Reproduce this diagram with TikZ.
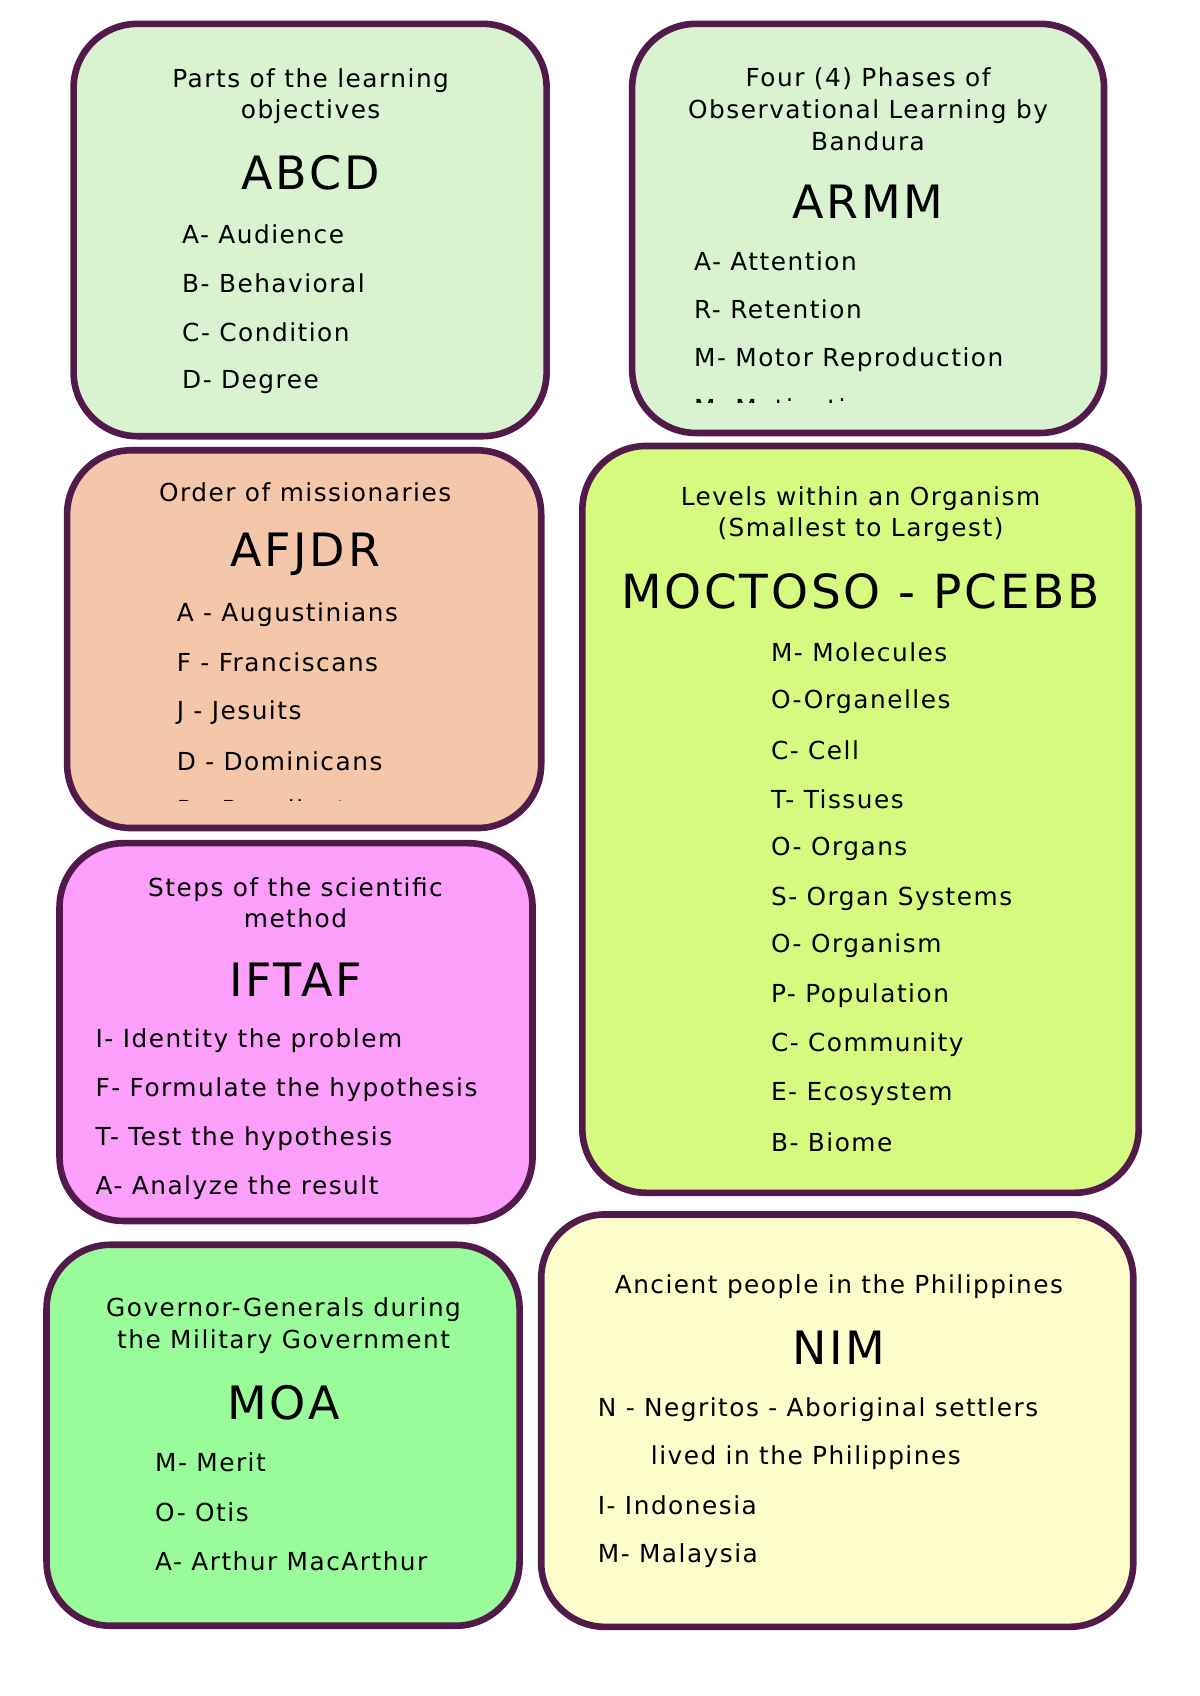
\documentclass[tikz,border=0pt]{standalone}
\usepackage{fontspec}
\setmainfont{DejaVu Sans}[LetterSpace=6]
\begin{document}
\begin{tikzpicture}[x=0.5412pt,y=-0.5412pt,
  card/.style={draw=bord,line width=3.3pt,rounded corners=32pt},
  ttl/.style={font=\fontsize{12.4}{15.8}\selectfont,align=center,inner sep=0},
  big/.style={font=\fontsize{23}{24}\selectfont,inner sep=0},
  itm/.style={font=\fontsize{12.4}{14}\selectfont,anchor=west,inner sep=0}]
\definecolor{bord}{HTML}{521A4A}
\definecolor{cA}{HTML}{D9F2D0}
\definecolor{cB}{HTML}{F4C6AA}
\definecolor{cC}{HTML}{D6FA80}
\definecolor{cD}{HTML}{FB9FFB}
\definecolor{cE}{HTML}{99FB99}
\definecolor{cF}{HTML}{FDFDCC}
\useasboundingbox (0,0) rectangle (1108.6,1566.9);
\fill[white] (0,0) rectangle (1108.6,1566.9);
% boxes
\draw[card,fill=cA] (68,22) rectangle (505,403);
\draw[card,fill=cA] (584,22) rectangle (1020,400);
\draw[card,fill=cB] (62,416) rectangle (500,765);
\draw[card,fill=cC] (538,412) rectangle (1052,1102);
\draw[card,fill=cD] (55,779) rectangle (492,1128);
\draw[card,fill=cE] (43,1150) rectangle (480,1502);
\draw[card,fill=cF] (500,1122) rectangle (1047,1503);
% box 1
\node[ttl] (t1) at (287,89) {Parts of the learning\\objectives};
\node[big] (b1) at (287,160) {ABCD};
\node[itm] (a1) at (168,216) {A- Audience};
\node[itm] (a2) at (168,262) {B- Behavioral};
\node[itm] (a3) at (168,307) {C- Condition};
\node[itm] (a4) at (168,353) {D- Degree};
% box 2
\node[ttl] (t2) at (802,101) {Four (4) Phases of\\Observational Learning by\\Bandura};
\node[big] (b2) at (802,186) {ARMM};
\node[itm] (r1) at (641,241) {A- Attention};
\node[itm] (r2) at (641,286) {R- Retention};
\node[itm] (r3) at (641,332) {M- Motor Reproduction};
\begin{scope}
\clip (600,350) rectangle (1000,372);
\node[itm] (r4) at (641,377) {M- Motivation};
\end{scope}
% box 3
\node[ttl] (t3) at (282,455) {Order of missionaries};
\node[big] (b3) at (282,512) {AFJDR};
\node[itm] (m1) at (163,568) {A - Augustinians};
\node[itm] (m2) at (163,612) {F - Franciscans};
\node[itm] (m3) at (163,658) {J - Jesuits};
\node[itm] (m4) at (163,703) {D - Dominicans};
\begin{scope}
\clip (120,725) rectangle (480,740);
\node[itm] (m5) at (163,748) {R - Recollects};
\end{scope}
% box 4
\node[ttl] (t4) at (795,475) {Levels within an Organism\\(Smallest to Largest)};
\node[big,font=\fontsize{23.5}{24}\selectfont] (b4) at (795,546) {MOCTOSO - PCEBB};
\foreach \t/\y [count=\i] in {M- Molecules/603,O-Organelles/648,C- Cell/693,T- Tissues/738,O- Organs/784,S- Organ Systems/830,O- Organism/874,P- Population/920,C- Community/965,E- Ecosystem/1011,B- Biome/1055}
  \node[itm] (o\i) at (712,\y) {\t};
% box 5
\node[ttl] (t5) at (273,834) {Steps of the scientific\\method};
\node[big] (b5) at (273,905) {IFTAF};
\node[itm] (s1) at (88,961) {I- Identity the problem};
\node[itm] (s2) at (88,1007) {F- Formulate the hypothesis};
\node[itm] (s3) at (88,1052) {T- Test the hypothesis};
\node[itm] (s4) at (88,1097) {A- Analyze the result};
% box 6
\node[ttl] (t6) at (262,1225) {Governor-Generals during\\the Military Government};
\node[big] (b6) at (262,1296) {MOA};
\node[itm] (g1) at (143,1351) {M- Merit};
\node[itm] (g2) at (143,1397) {O- Otis};
\node[itm] (g3) at (143,1442) {A- Arthur MacArthur};
% box 7
\node[ttl] (t7) at (775,1189) {Ancient people in the Philippines};
\node[big] (b7) at (775,1245) {NIM};
\node[itm] (n1) at (552,1302) {N - Negritos - Aboriginal settlers};
\node[itm] (n2) at (601,1347) {lived in the Philippines};
\node[itm] (n3) at (552,1391) {I- Indonesia};
\node[itm] (n4) at (552,1437) {M- Malaysia};
\end{tikzpicture}
\end{document}
